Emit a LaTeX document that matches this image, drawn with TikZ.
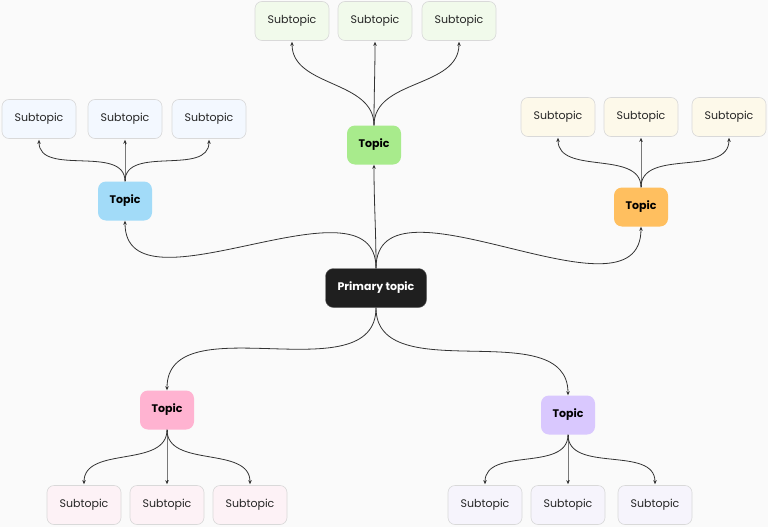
\documentclass[tikz,border=0pt]{standalone}
\usepackage{fontspec}
\setmainfont{Poppins}
\usetikzlibrary{arrows.meta}
\definecolor{bg}{HTML}{FAFAFA}
\definecolor{sb}{HTML}{F3F8FF}\definecolor{sg}{HTML}{F1FAEB}\definecolor{sy}{HTML}{FDF9EA}
\definecolor{sp}{HTML}{FDF2F6}\definecolor{sv}{HTML}{F6F4FC}
\definecolor{tb}{HTML}{A2DBF8}\definecolor{tg}{HTML}{A8EB8C}\definecolor{ty}{HTML}{FFBF5F}
\definecolor{tp}{HTML}{FFB3D1}\definecolor{tv}{HTML}{D9C8FE}
\definecolor{edge}{HTML}{333333}
\begin{document}
\begin{tikzpicture}[x=1pt,y=1pt,
  sub/.style={draw=black!15,line width=0.6pt,rounded corners=7pt,minimum width=74pt,minimum height=39pt,font=\fontsize{11}{12}\selectfont,text=black!85},
  top/.style={draw=none,rounded corners=8pt,minimum width=54pt,minimum height=39pt,font=\fontsize{11}{12}\selectfont\bfseries},
  prim/.style={fill=black!88,draw=black!60,rounded corners=8pt,minimum width=101pt,minimum height=39pt,text=white,font=\fontsize{11}{12}\selectfont\bfseries},
  con/.style={draw=edge,line width=0.8pt,-{Stealth[length=4pt,width=3.5pt]}}]
\fill[bg] (0,0) rectangle (768,-527);
\useasboundingbox (0,0) rectangle (768,-527);
\node[prim] (p) at (376,-288) {Primary topic};
\node[top,fill=tb] (t1) at (125,-201) {Topic};
\node[top,fill=tg] (t2) at (374,-145) {Topic};
\node[top,fill=ty] (t3) at (641,-207) {Topic};
\node[top,fill=tp] (t4) at (167,-410) {Topic};
\node[top,fill=tv] (t5) at (568,-415) {Topic};
\node[sub,fill=sb] (a1) at (39,-119) {Subtopic};
\node[sub,fill=sb] (a2) at (125,-119) {Subtopic};
\node[sub,fill=sb] (a3) at (209,-119) {Subtopic};
\node[sub,fill=sg] (b1) at (292,-21) {Subtopic};
\node[sub,fill=sg] (b2) at (375,-21) {Subtopic};
\node[sub,fill=sg] (b3) at (459,-21) {Subtopic};
\node[sub,fill=sy] (c1) at (558,-117) {Subtopic};
\node[sub,fill=sy] (c2) at (641,-117) {Subtopic};
\node[sub,fill=sy] (c3) at (729,-117) {Subtopic};
\node[sub,fill=sp] (d1) at (84,-505) {Subtopic};
\node[sub,fill=sp] (d2) at (167,-505) {Subtopic};
\node[sub,fill=sp] (d3) at (250,-505) {Subtopic};
\node[sub,fill=sv] (e1) at (485,-505) {Subtopic};
\node[sub,fill=sv] (e2) at (568,-505) {Subtopic};
\node[sub,fill=sv] (e3) at (655,-505) {Subtopic};
\foreach \t in {t1,t2,t3} \draw[con] (p.north) to[out=90,in=-90] (\t.south);
\foreach \t in {t4,t5} \draw[con] (p.south) to[out=-90,in=90] (\t.north);
\foreach \t/\s in {t1/a1,t1/a2,t1/a3,t2/b1,t2/b2,t2/b3,t3/c1,t3/c2,t3/c3}
  \draw[con] (\t.north) to[out=90,in=-90] ([yshift=-1pt]\s.south);
\foreach \t/\s in {t4/d1,t4/d2,t4/d3,t5/e1,t5/e2,t5/e3}
  \draw[con] (\t.south) to[out=-90,in=90] ([yshift=1pt]\s.north);
\end{tikzpicture}
\end{document}
